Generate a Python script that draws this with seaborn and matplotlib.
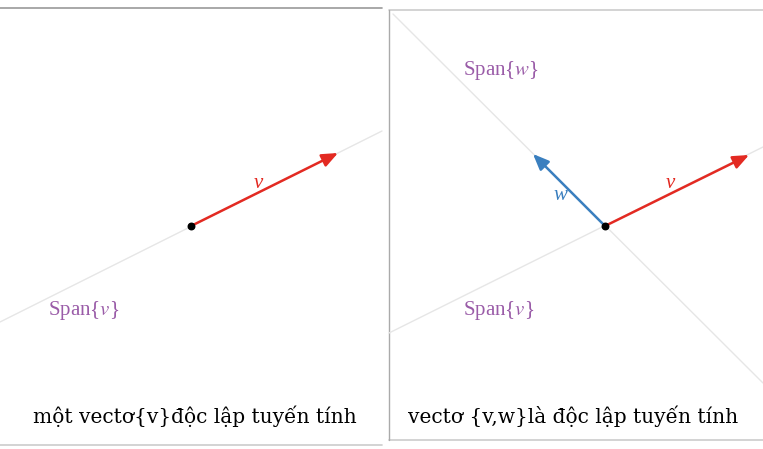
import matplotlib
matplotlib.use('Agg')
import matplotlib.pyplot as plt
import seaborn as sns

sns.set_style('white')
plt.rcParams['font.family'] = ['DejaVu Serif']

# 픽셀 좌표 기준 데이터
origin_left = (191, 226)
v_left = (338, 153)
span_v_left = ([0, 382], [322, 131])

origin_right = (605, 226)
v_right = (749, 155)
w_right = (533, 154)
span_v_right = ([389, 763], [333, 147])
span_w_right = ([393, 763], [14, 383])

captions = ['một vectơ{v}độc lập tuyến tính', 'vectơ {v,w}là độc lập tuyến tính']

red = '#e32a22'
blue = '#3a7fbf'
purple = '#9a5ca8'
gray = '#e6e6e6'

fig = plt.figure(figsize=(7.63, 4.49), dpi=100)
ax = fig.add_axes([0, 0, 1, 1])
ax.set_xlim(0, 763)
ax.set_ylim(449, 0)
ax.axis('off')

# 패널 테두리
ax.plot([0, 382], [8, 8], color='#999999', lw=1.2)
ax.plot([0, 382], [445, 445], color='#cccccc', lw=1.2)
ax.plot([389, 763], [10, 10], color='#cccccc', lw=1.2)
ax.plot([389, 763], [440, 440], color='#cccccc', lw=1.2)
ax.plot([389, 389], [10, 440], color='#aaaaaa', lw=1)

# span 선
sns.lineplot(x=span_v_left[0], y=span_v_left[1], ax=ax, color=gray, lw=1)
sns.lineplot(x=span_v_right[0], y=span_v_right[1], ax=ax, color=gray, lw=1)
sns.lineplot(x=span_w_right[0], y=span_w_right[1], ax=ax, color=gray, lw=1)

def arrow(tip, base, color):
    ax.annotate('', xy=tip, xytext=base,
                arrowprops=dict(arrowstyle='-|>,head_length=0.6,head_width=0.25',
                                color=color, lw=1.8,
                                mutation_scale=16, shrinkA=0, shrinkB=0))

arrow(v_left, origin_left, red)
arrow(v_right, origin_right, red)
arrow(w_right, origin_right, blue)
ax.scatter([origin_left[0], origin_right[0]], [origin_left[1], origin_right[1]],
           color='black', s=22, zorder=5)

lbl = dict(family='Liberation Serif', fontsize=15, va='center')
ax.text(258, 183, 'v', color=red, style='italic', ha='center', **lbl)
ax.text(670, 183, 'v', color=red, style='italic', ha='center', **lbl)
ax.text(560, 195, 'w', color=blue, style='italic', ha='center', **lbl)
for x, y, letter in [(48, 310, 'v'), (463, 310, 'v'), (463, 70, 'w')]:
    ax.text(x, y, 'Span{$\\mathit{' + letter + '}$}', color=purple, ha='left',
            math_fontfamily='stix', **lbl)

ax.text(195, 416, captions[0], ha='center', va='center', fontsize=14.5, color='black')
ax.text(573, 416, captions[1], ha='center', va='center', fontsize=14.5, color='black')

fig.savefig('out.png', dpi=100)
